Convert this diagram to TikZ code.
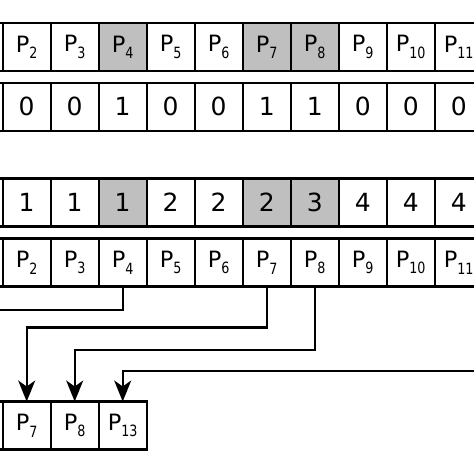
\documentclass[tikz,border=0pt]{standalone}
\usepackage{fontspec}
\setmainfont{DejaVu Sans}
\usetikzlibrary{arrows.meta}
\newcommand\Pn[1]{P\raisebox{-6.8pt}{\scalebox{0.82}[1]{\fontsize{15.5}{16}\selectfont #1}}}
\tikzset{
  cell/.style={draw=black, line width=2.1pt, minimum width=48pt, minimum height=48pt,
    inner sep=0pt, outer sep=0pt, font=\fontsize{22.5}{24}\selectfont},
  numcell/.style={cell, font=\fontsize{25}{26}\selectfont},
  hl/.style={fill=gray!50},
  conn/.style={draw=black, line width=2.1pt},
  arr/.style={conn, -{Stealth[length=21pt,width=17pt,inset=6pt]}}
}
\begin{document}
\begin{tikzpicture}[x=1pt,y=-1pt]
\path[use as bounding box, clip] (0,0) rectangle (474,474);
% Row A: P labels with highlights
\node[cell] (a1) at (-21.3,47.2) {};
\foreach \k/\s in {2/,3/,4/hl,5/,6/,7/hl,8/hl,9/,10/,11/}{
  \node[cell,\s] (a\k) at ({26.7+48*(\k-2)},47.2) {\Pn{\k}};
}
% Row B: bits
\node[numcell] (b1) at (-21.3,106.7) {};
\foreach \k/\v in {2/0,3/0,4/1,5/0,6/0,7/1,8/1,9/0,10/0,11/0}{
  \node[numcell] (b\k) at ({26.7+48*(\k-2)},106.7) {\v};
}
% Row C: counts
\node[numcell] (c1) at (-21.3,202.5) {};
\foreach \k/\v/\s in {2/1/,3/1/,4/1/hl,5/2/,6/2/,7/2/hl,8/3/hl,9/4/,10/4/,11/4/}{
  \node[numcell,\s] (c\k) at ({26.7+48*(\k-2)},202.5) {\v};
}
% Row D: P labels
\node[cell] (d1) at (-21.3,262.5) {};
\foreach \k in {2,...,11}{
  \node[cell] (d\k) at ({26.7+48*(\k-2)},262.5) {\Pn{\k}};
}
% Row E: result
\node[cell] (e0) at (-21.3,425.5) {};
\node[cell] (e7) at (26.7,425.5) {\Pn{7}};
\node[cell] (e8) at (74.7,425.5) {\Pn{8}};
\node[cell] (e13) at (122.7,425.5) {\Pn{13}};
% connectors
\coordinate (l4) at (-10,310);
\coordinate (r13) at (490,370.7);
\draw[conn] (d4.south) |- (l4);
\draw[arr] (d7.south) -- ++(0,41) -| (e7.north);
\draw[arr] (d8.south) -- ++(0,63.3) -| (e8.north);
\draw[arr] (r13) -| (e13.north);
\end{tikzpicture}
\end{document}
